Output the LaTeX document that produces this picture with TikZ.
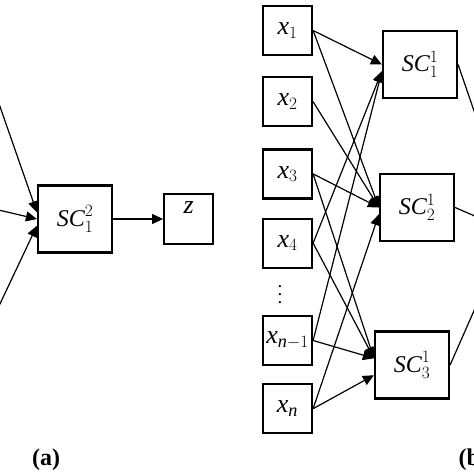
\documentclass[tikz,border=0pt]{standalone}
\usepackage{amsmath}
\usepackage{fontspec}
\setmainfont{Liberation Serif}
\usetikzlibrary{arrows.meta, positioning}
\newcommand{\vname}[1]{\text{\itshape #1}}

\begin{document}
\begin{tikzpicture}[
    x=1pt, y=-1pt,
    node distance=20pt,
    box/.style={rectangle, draw=black, line width=2.2pt, minimum width=49pt, minimum height=49pt, inner sep=0pt, font=\fontsize{26}{28}\selectfont},
    scbox/.style={box, minimum width=74pt, minimum height=67pt, font=\fontsize{24}{26}\selectfont},
    link/.style={-{Triangle[length=11pt, width=10pt]}, line width=1.2pt},
    wire/.style={line width=1.2pt},
    tag/.style={font=\bfseries\fontsize{24}{26}\selectfont}
]
\useasboundingbox (0,0) rectangle (474,474);
\clip (0,0) rectangle (474,474);

% (a) second layer
\node[scbox] (sc12) at (75,219) {$\vname{SC}^{2}_{1}$};
\node[box, right=50pt of sc12, minimum height=50pt, text depth=22pt] (z) {$\vname{z}$};

\coordinate (in1) at (-10,78);
\coordinate (in2) at (-10,208);
\coordinate (in3) at (-10,325);
\draw[link] (in1) -- (sc12.170);
\draw[link] (in2) -- (sc12.west);
\draw[link] (in3) -- (sc12.190);
\draw[link] (sc12) -- (z);

\node[tag] (laba) at (46,460) {(a)};

% (b) first layer
\node[box] (x1) at (287.5,30.5) {$\vname{x}_{1}$};
\node[box, below=of x1] (x2) {$\vname{x}_{2}$};
\node[box, below=21pt of x2] (x3) {$\vname{x}_{3}$};
\node[box, below=18pt of x3] (x4) {$\vname{x}_{4}$};
\node[inner sep=0pt] (dots) at (280,289) {\scalebox{1.9}{$\vdots$}};
\node[box] (xn1) at (287.5,340.5) {$\vname{x}_{\vname{n}-1}$};
\node[box, below=17pt of xn1] (xn) {$\vname{x}_{\vname{n}}$};

\node[scbox] (sc11) at (420,64.5) {$\vname{SC}^{1}_{1}$};
\node[scbox] (sc21) at (417,207.5) {$\vname{SC}^{1}_{2}$};
\node[scbox] (sc31) at (412,365) {$\vname{SC}^{1}_{3}$};

\draw[link] (x1.east) -- (sc11.west);
\draw[link] (x1.east) -- (sc21.west);
\draw[link] (x2.east) -- (sc21.west);
\draw[link] (x3.east) -- (sc21.west);
\draw[link] (x3.east) -- (sc31.170);
\draw[link] (x4.east) -- (sc11.190);
\draw[link] (x4.east) -- (sc31.170);
\draw[link] (xn1.east) -- (sc11.190);
\draw[link] (xn1.east) -- (sc31.170);
\draw[link] (xn.east) -- (sc21.190);
\draw[link] (xn.east) -- (sc31.195);

% towards the next layer
\coordinate (out1) at (484,140);
\coordinate (out2) at (484,220);
\coordinate (out3) at (484,288);
\draw[wire] (sc11.east) -- (out1);
\draw[wire] (sc21.east) -- (out2);
\draw[wire] (sc31.east) -- (out3);

\node[tag, anchor=west] (labb) at (455,460) {(b)};

\end{tikzpicture}
\end{document}
